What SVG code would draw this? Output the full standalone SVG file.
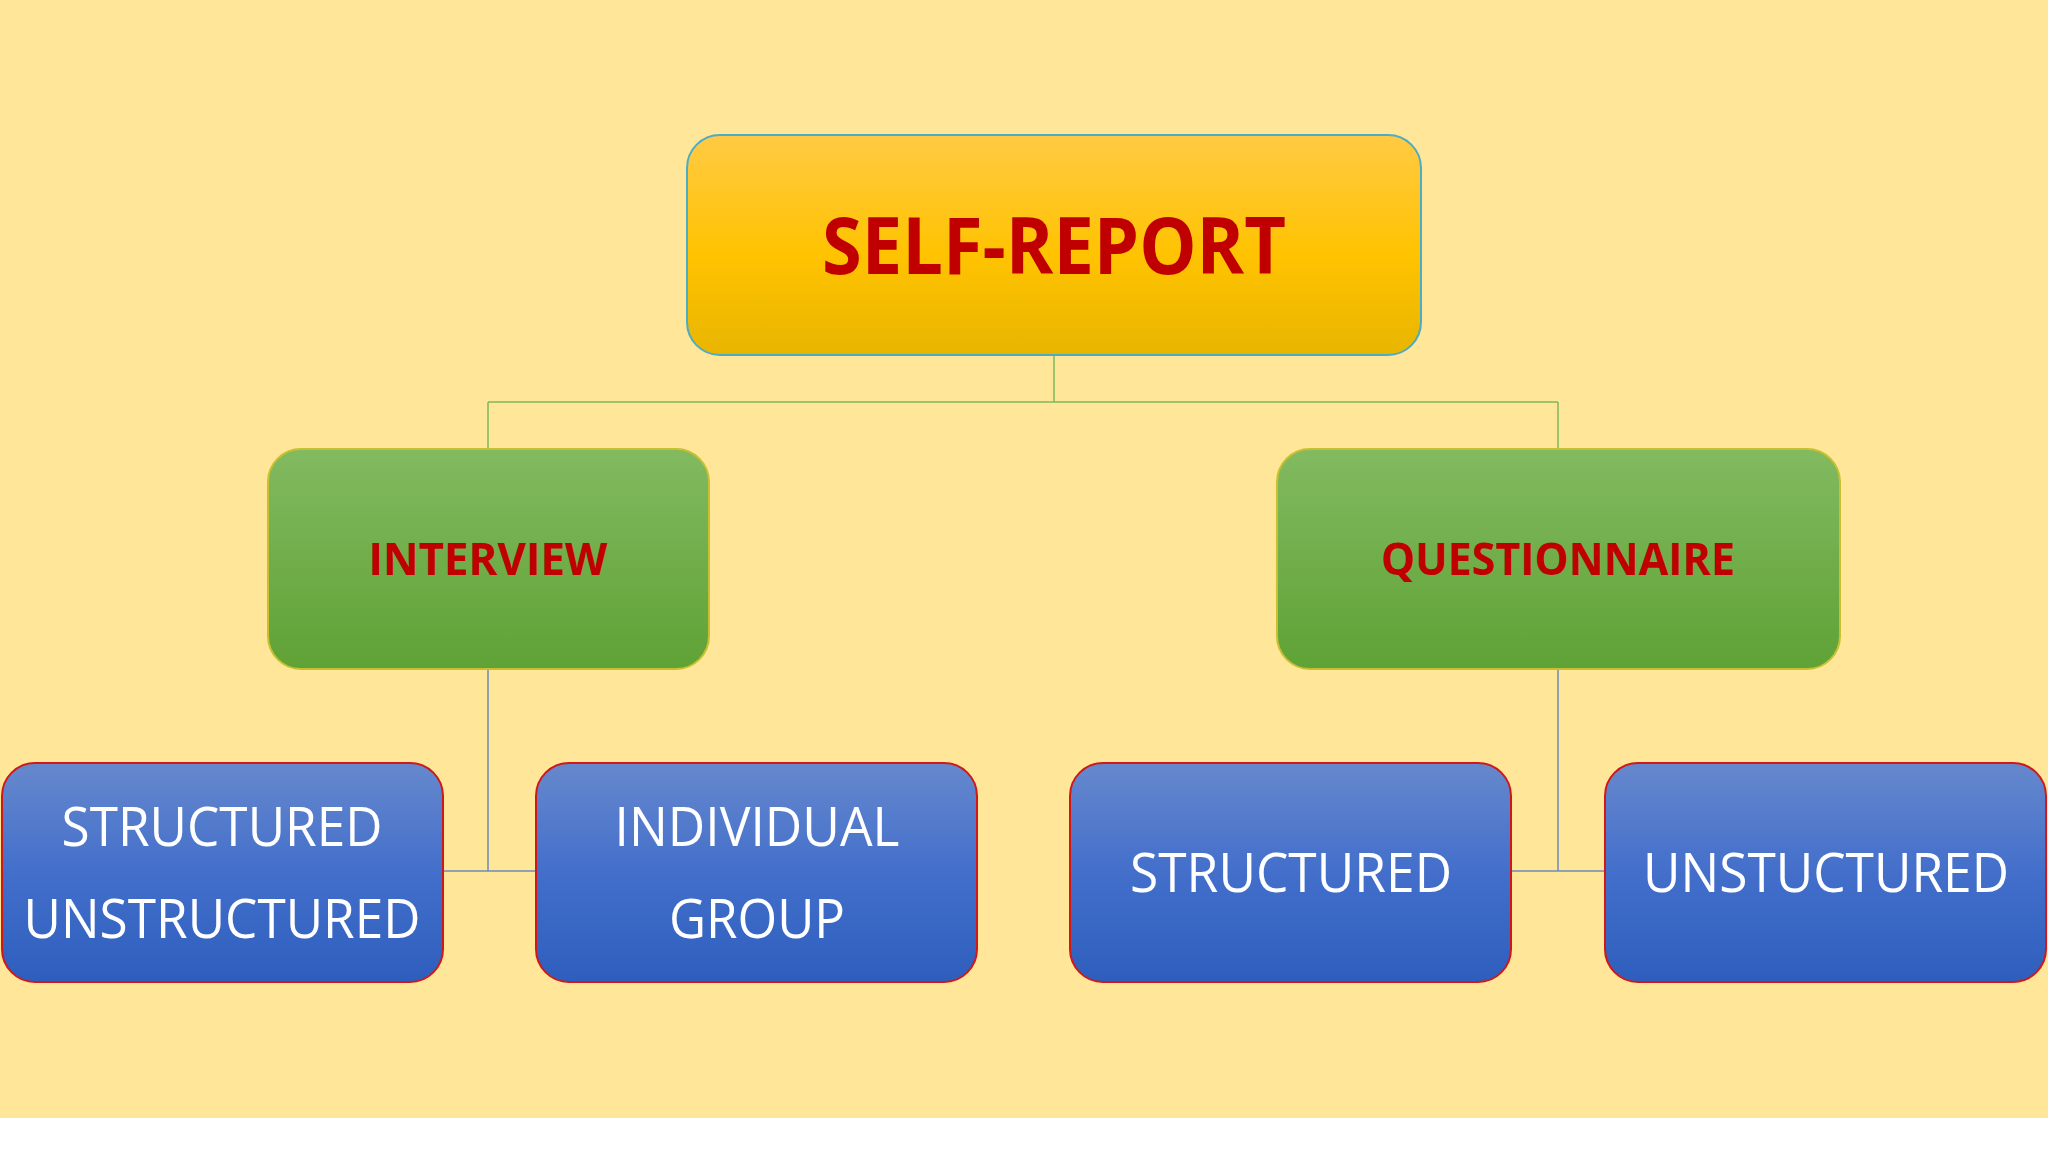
<svg xmlns="http://www.w3.org/2000/svg" width="2048" height="1152" viewBox="0 0 2048 1152">
<defs>
<linearGradient id="gy" x1="0" y1="0" x2="0" y2="1"><stop offset="0" stop-color="#FFCA44"/><stop offset="0.55" stop-color="#FFC300"/><stop offset="1" stop-color="#E8B500"/></linearGradient>
<linearGradient id="gg" x1="0" y1="0" x2="0" y2="1"><stop offset="0" stop-color="#82BA60"/><stop offset="1" stop-color="#5FA235"/></linearGradient>
<linearGradient id="gb" x1="0" y1="0" x2="0" y2="1"><stop offset="0" stop-color="#6688CD"/><stop offset="0.5" stop-color="#436FCB"/><stop offset="1" stop-color="#2E5EBD"/></linearGradient>
</defs>
<style>
.t{font-family:"Open Sans","Liberation Sans",sans-serif;text-anchor:middle;dominant-baseline:central}
.r{fill:#C00000;font-weight:bold}
.w{fill:#fff;font-size:54px}
.blue{fill:url(#gb);stroke:#D01818;stroke-width:2}
.green{fill:url(#gg);stroke:#C8C030;stroke-width:2}
</style>
<rect width="2048" height="1118" fill="#FFE699"/>
<rect y="1118" width="2048" height="34" fill="#fff"/>
<g id="connectors" fill="none" stroke-width="1.5">
<path d="M1054 355V402M488 402H1558M488 402V449M1558 402V449" stroke="#7DB85C"/>
<path d="M488 669V871M443 871H535M1558 669V871M1511 871H1605" stroke="#6A8CB8"/>
</g>
<g id="n0"><rect x="687" y="135" width="734" height="220" rx="33" fill="url(#gy)" stroke="#4BACC6" stroke-width="2"/>
<text class="t r" x="1054" y="244" font-size="78" textLength="464" lengthAdjust="spacingAndGlyphs">SELF-REPORT</text></g>
<g id="n1"><rect class="green" x="268" y="449" width="441" height="220" rx="33"/>
<text class="t r" x="488" y="558" font-size="44" textLength="239" lengthAdjust="spacingAndGlyphs">INTERVIEW</text></g>
<g id="n2"><rect class="green" x="1277" y="449" width="563" height="220" rx="33"/>
<text class="t r" x="1558" y="558" font-size="44" textLength="354" lengthAdjust="spacingAndGlyphs">QUESTIONNAIRE</text></g>
<g id="n3"><rect class="blue" x="2" y="763" width="441" height="219" rx="33"/>
<text class="t w" x="222" y="825" textLength="321" lengthAdjust="spacingAndGlyphs">STRUCTURED</text>
<text class="t w" x="222" y="917" textLength="397" lengthAdjust="spacingAndGlyphs">UNSTRUCTURED</text></g>
<g id="n4"><rect class="blue" x="536" y="763" width="441" height="219" rx="33"/>
<text class="t w" x="757" y="825" textLength="285" lengthAdjust="spacingAndGlyphs">INDIVIDUAL</text>
<text class="t w" x="757" y="917" textLength="176" lengthAdjust="spacingAndGlyphs">GROUP</text></g>
<g id="n5"><rect class="blue" x="1070" y="763" width="441" height="219" rx="33"/>
<text class="t w" x="1291" y="871" textLength="322" lengthAdjust="spacingAndGlyphs">STRUCTURED</text></g>
<g id="n6"><rect class="blue" x="1605" y="763" width="441" height="219" rx="33"/>
<text class="t w" x="1826" y="871" textLength="366" lengthAdjust="spacingAndGlyphs">UNSTUCTURED</text></g>
</svg>
